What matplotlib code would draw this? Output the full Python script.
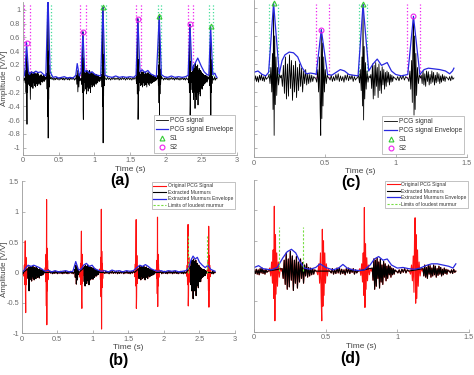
import numpy as np
import matplotlib
matplotlib.use('Agg')
import matplotlib.pyplot as plt

plt.rcParams['font.family'] = ['Liberation Sans', 'DejaVu Sans']

# ---------------- data: recording 1 (panels a, b) ----------------
a_sound_offsets = [-0.025, -0.018, -0.012, -0.007, -0.003, 0.0, 0.003, 0.006, 0.01, 0.014, 0.019, 0.025, 0.032]
a_sound_times = [0.05, 0.35, 0.84, 1.12, 1.61, 1.91, 2.34, 2.63]
a_sound_vals = [
    [0.0, -0.06, 0.12, -0.2, 0.3, 0.52, -0.33, -0.66, 0.25, -0.2, 0.1, -0.08, 0.0],
    [0.0, 0.08, -0.15, 0.3, -0.55, 1.2, -0.86, 0.4, -0.3, 0.2, -0.12, 0.05, 0.0],
    [0.0, -0.08, 0.15, -0.2, 0.35, 0.68, -0.45, -0.59, 0.3, -0.18, 0.1, -0.05, 0.0],
    [0.0, 0.06, -0.12, 0.25, -0.4, 1.04, -0.93, 0.35, -0.25, 0.15, -0.1, 0.04, 0.0],
    [0.0, -0.07, 0.14, -0.22, 0.4, 0.87, -0.59, -0.4, 0.28, -0.18, 0.1, -0.05, 0.0],
    [0.0, 0.05, -0.1, 0.2, -0.35, 0.91, -0.56, 0.3, -0.22, 0.14, -0.08, 0.04, 0.0],
    [0.0, -0.06, 0.12, -0.2, 0.35, 0.79, -0.55, -0.38, 0.25, -0.16, 0.09, -0.05, 0.0],
    [0.0, 0.05, -0.1, 0.2, -0.3, 0.76, -0.57, 0.28, -0.2, 0.12, -0.07, 0.03, 0.0],
]
a_murmur_spans = [(0.085, 0.32), (0.875, 1.09), (1.645, 1.88), (2.375, 2.6)]
a_murmur_vals = [
    [0.06, -0.1, 0.09, -0.3, 0.08, -0.12, 0.1, -0.08, 0.07, -0.14, 0.09, -0.06, 0.1, -0.1, 0.06, -0.12, 0.08, -0.07, 0.06, -0.1,
     0.09, -0.05, 0.07, -0.08, 0.04, -0.06, 0.05, -0.09, 0.06, -0.04, 0.03, -0.05, 0.04, -0.03, 0.05, -0.04, 0.03, -0.02, 0.02, 0.0],
    [0.08, -0.15, 0.1, -0.22, 0.12, -0.12, 0.09, -0.18, 0.1, -0.1, 0.12, -0.14, 0.08, -0.2, 0.1, -0.08, 0.09, -0.12, 0.07, -0.1,
     0.08, -0.09, 0.06, -0.11, 0.07, -0.06, 0.05, -0.08, 0.06, -0.05, 0.04, -0.06, 0.05, -0.03, 0.03, -0.04, 0.02, -0.03, 0.02, 0.0],
    [0.06, -0.1, 0.1, -0.08, 0.08, -0.12, 0.1, -0.06, 0.09, -0.1, 0.06, -0.08, 0.1, -0.09, 0.07, -0.12, 0.08, -0.06, 0.09, -0.08,
     0.06, -0.1, 0.07, -0.05, 0.06, -0.07, 0.05, -0.06, 0.04, -0.05, 0.05, -0.04, 0.03, -0.04, 0.03, -0.03, 0.02, -0.02, 0.01, 0.0],
    [0.1, -0.2, 0.18, -0.3, 0.2, -0.19, 0.15, -0.43, 0.22, -0.25, 0.18, -0.3, 0.15, -0.2, 0.2, -0.38, 0.12, -0.22, 0.15, -0.18,
     0.1, -0.25, 0.12, -0.15, 0.1, -0.12, 0.08, -0.15, 0.07, -0.1, 0.06, -0.08, 0.05, -0.07, 0.04, -0.06, 0.05, -0.04, 0.03, -0.05,
     0.03, -0.02, 0.02, 0.0],
]
a_quiet_spans = [(0.0, 0.022), (0.385, 0.735), (0.74, 0.805), (1.155, 1.585), (1.945, 2.315), (2.665, 2.72)]
a_quiet_vals = [
    [0.0, -0.03, 0.02, -0.02, 0.0],
    [0.0, 0.02, -0.01, 0.015, -0.02, 0.01, -0.015, 0.02, -0.01, 0.01, -0.02, 0.015, -0.01, 0.02, -0.015,
     0.01, -0.02, 0.01, -0.01, 0.02, -0.015, 0.01, -0.02, 0.015, -0.01, 0.02, -0.01, 0.015, -0.02, 0.0],
    [0.0, 0.05, -0.08, 0.12, -0.19, 0.08, -0.12, 0.05, -0.03, 0.0],
    [0.0, -0.015, 0.02, -0.01, 0.01, -0.02, 0.015, -0.01, 0.02, -0.015, 0.01, -0.01, 0.02, -0.02, 0.01,
     -0.015, 0.02, -0.01, 0.015, -0.02, 0.01, -0.01, 0.02, -0.015, 0.01, -0.02, 0.015, -0.01, 0.02, 0.0],
    [0.0, 0.015, -0.02, 0.01, -0.01, 0.02, -0.015, 0.01, -0.02, 0.015, -0.01, 0.02, -0.01, 0.01, -0.02,
     0.015, -0.01, 0.02, -0.015, 0.01, -0.02, 0.01, -0.01, 0.02, -0.015, 0.01, -0.02, 0.015, -0.01, 0.0],
    [0.0, -0.02, 0.03, -0.02, 0.01, 0.0],
]
a_env_t = [0.0, 0.02, 0.03, 0.05, 0.075, 0.09, 0.12, 0.15, 0.18, 0.21, 0.25, 0.29, 0.32, 0.35, 0.38, 0.42, 0.46, 0.5,
           0.54, 0.58, 0.62, 0.66, 0.7, 0.74, 0.76, 0.79, 0.815, 0.84, 0.865, 0.89, 0.93, 0.97, 1.01, 1.05, 1.09, 1.12,
           1.15, 1.2, 1.25, 1.3, 1.35, 1.4, 1.45, 1.5, 1.55, 1.585, 1.61, 1.64, 1.67, 1.71, 1.75, 1.79, 1.83, 1.87, 1.91,
           1.94, 1.98, 2.03, 2.08, 2.13, 2.18, 2.23, 2.28, 2.315, 2.34, 2.37, 2.4, 2.45, 2.5, 2.54, 2.58, 2.605, 2.63,
           2.66, 2.69, 2.71, 2.72]
a_env_v = [0.02, 0.05, 0.15, 0.52, 0.12, 0.06, 0.1, 0.08, 0.11, 0.09, 0.1, 0.06, 0.04, 1.2, 0.1, 0.02, 0.03, 0.01,
           0.02, 0.03, 0.01, 0.02, 0.01, 0.05, 0.22, 0.04, 0.1, 0.68, 0.1, 0.12, 0.08, 0.1, 0.06, 0.05, 0.04, 1.04,
           0.05, 0.03, 0.02, 0.04, 0.02, 0.03, 0.02, 0.03, 0.02, 0.05, 0.87, 0.1, 0.13, 0.09, 0.12, 0.07, 0.05, 0.03, 0.91,
           0.06, 0.03, 0.02, 0.04, 0.02, 0.03, 0.02, 0.03, 0.05, 0.79, 0.12, 0.2, 0.3, 0.18, 0.1, 0.06, 0.05, 0.76,
           0.06, 0.08, 0.03, 0.02]
a_s1_times = [0.35, 1.12, 1.91, 2.63]
a_s1_peaks = [1.2, 1.04, 0.91, 0.76]
a_s2_times = [0.05, 0.84, 1.61, 2.34]
a_s2_peaks = [0.52, 0.68, 0.87, 0.79]
a_s1_bounds = [0.33, 0.39, 1.10, 1.16, 1.89, 1.94, 2.61, 2.66]
a_s2_bounds = [0.02, 0.10, 0.80, 0.88, 1.58, 1.65, 2.31, 2.38]

b_env_t = [0.0, 0.03, 0.06, 0.09, 0.13, 0.17, 0.21, 0.25, 0.29, 0.33, 0.37, 0.42, 0.47, 0.52, 0.57, 0.62, 0.67, 0.72,
           0.76, 0.8, 0.84, 0.87, 0.91, 0.95, 0.99, 1.03, 1.07, 1.12, 1.17, 1.22, 1.27, 1.32, 1.37, 1.42, 1.47, 1.52,
           1.57, 1.62, 1.66, 1.7, 1.74, 1.78, 1.82, 1.86, 1.91, 1.96, 2.01, 2.06, 2.11, 2.16, 2.21, 2.26, 2.31, 2.35,
           2.38, 2.41, 2.44, 2.47, 2.5, 2.54, 2.58, 2.62, 2.66, 2.7, 2.72]
b_env_v = [0.01, 0.03, 0.08, 0.12, 0.1, 0.12, 0.1, 0.08, 0.05, 0.02, 0.04, 0.01, 0.03, 0.01, 0.02, 0.03, 0.01, 0.02,
           0.18, 0.04, 0.06, 0.12, 0.15, 0.1, 0.12, 0.06, 0.04, 0.02, 0.03, 0.01, 0.04, 0.02, 0.03, 0.01, 0.03, 0.02,
           0.03, 0.08, 0.12, 0.1, 0.13, 0.1, 0.06, 0.04, 0.02, 0.03, 0.01, 0.03, 0.02, 0.03, 0.01, 0.02, 0.03, 0.08,
           0.2, 0.27, 0.22, 0.25, 0.17, 0.12, 0.08, 0.12, 0.05, 0.03, 0.02]
b_limits = [2.34, 2.60]
b_limit_top = 0.6

# ---------------- data: recording 2 (panels c, d) ----------------
c_sound_offsets = [-0.04, -0.032, -0.025, -0.019, -0.013, -0.008, -0.004, 0.0, 0.004, 0.008, 0.012, 0.017, 0.022,
                   0.028, 0.035, 0.042, 0.05]
c_sound_times = [0.14, 0.476, 0.77, 1.125]
c_sound_vals = [
    [0.0, 0.05, -0.08, 0.15, -0.2, 0.35, -0.45, 1.07, -0.82, 0.6, -0.38, 0.3, -0.25, 0.15, -0.1, 0.05, 0.0],
    [0.0, -0.06, 0.12, -0.2, 0.3, -0.45, -0.82, 0.69, -0.58, 0.5, -0.4, 0.3, -0.2, 0.12, -0.08, 0.04, 0.0],
    [0.0, 0.04, -0.07, 0.12, -0.18, 0.3, -0.4, 1.05, -0.6, 0.45, -0.3, 0.22, -0.16, 0.1, -0.06, 0.03, 0.0],
    [0.0, -0.05, 0.1, -0.16, 0.25, -0.35, 0.5, 0.88, -0.53, 0.6, -0.45, 0.35, -0.25, 0.15, -0.08, 0.04, 0.0],
]
c_murmur_spans = [(0.195, 0.43), (0.825, 0.99), (1.18, 1.36)]
c_murmur_vals = [
    [0.04, -0.12, 0.18, -0.22, 0.3, -0.3, 0.2, -0.26, 0.33, -0.15, 0.25, -0.32, 0.18, -0.2, 0.24, -0.28, 0.15,
     -0.18, 0.2, -0.12, 0.14, -0.2, 0.1, -0.08, 0.12, -0.1, 0.06, -0.08, 0.05, -0.06, 0.04, -0.05, 0.02, 0.0],
    [0.05, -0.15, 0.2, -0.3, 0.18, -0.25, 0.22, -0.12, 0.15, -0.28, 0.2, -0.18, 0.1, -0.22, 0.16, -0.1, 0.12, -0.16,
     0.08, -0.12, 0.1, -0.06, 0.08, -0.1, 0.05, -0.06, 0.04, -0.05, 0.02, 0.0],
    [0.04, -0.08, 0.1, -0.1, 0.06, -0.12, 0.1, -0.05, 0.09, -0.1, 0.05, -0.08, 0.1, -0.06, 0.08, -0.1, 0.04, -0.07,
     0.08, -0.05, 0.06, -0.08, 0.03, -0.06, 0.05, -0.04, 0.03, -0.05, 0.02, 0.0],
]
c_quiet_spans = [(0.0, 0.095), (0.53, 0.725), (0.995, 1.08), (1.365, 1.41)]
c_quiet_vals = [
    [0.0, -0.04, 0.03, -0.05, 0.02, -0.06, 0.04, -0.03, 0.05, -0.04, 0.02, -0.05, 0.03, -0.02, 0.0],
    [0.0, -0.03, 0.04, -0.05, 0.02, -0.04, 0.05, -0.03, 0.06, -0.05, 0.03, -0.04, 0.02, -0.06, 0.04, -0.03, 0.05, -0.04,
     0.03, -0.02, 0.04, -0.05, 0.02, -0.03, 0.0],
    [0.0, -0.03, 0.02, -0.04, 0.03, -0.02, 0.04, -0.03, 0.02, 0.0],
    [0.0, -0.03, 0.02, -0.04, 0.03, -0.02, 0.0],
]
c_env_t = [0.0, 0.03, 0.06, 0.085, 0.105, 0.14, 0.18, 0.2, 0.22, 0.25, 0.28, 0.31, 0.34, 0.37, 0.4, 0.43, 0.44, 0.476,
           0.52, 0.55, 0.58, 0.61, 0.64, 0.67, 0.7, 0.735, 0.77, 0.81, 0.84, 0.87, 0.9, 0.94, 0.97, 1.0, 1.04, 1.085,
           1.125, 1.17, 1.2, 1.23, 1.27, 1.31, 1.35, 1.38, 1.4, 1.41]
c_env_v = [0.08, 0.1, 0.05, 0.03, 0.08, 1.07, 0.06, 0.25, 0.33, 0.37, 0.36, 0.3, 0.15, 0.06, 0.07, 0.06, 0.05, 0.69,
           0.05, 0.04, 0.08, 0.12, 0.1, 0.05, 0.04, 0.03, 1.05, 0.1, 0.2, 0.27, 0.18, 0.22, 0.1, 0.05, 0.03, 0.05,
           0.88, 0.05, 0.12, 0.14, 0.13, 0.12, 0.1, 0.06, 0.1, 0.14]
c_s1_times = [0.14, 0.77]
c_s1_peaks = [1.07, 1.05]
c_s2_times = [0.476, 1.125]
c_s2_peaks = [0.69, 0.88]
c_s1_bounds = [0.11, 0.17, 0.74, 0.80]
c_s2_bounds = [0.44, 0.53, 1.08, 1.17]

d_env_t = [0.0, 0.03, 0.06, 0.09, 0.12, 0.16, 0.2, 0.23, 0.26, 0.29, 0.32, 0.35, 0.39, 0.43, 0.46, 0.5, 0.55, 0.59,
           0.62, 0.65, 0.69, 0.73, 0.77, 0.81, 0.84, 0.87, 0.9, 0.93, 0.96, 1.0, 1.04, 1.08, 1.12, 1.16, 1.2, 1.24,
           1.28, 1.32, 1.36, 1.39, 1.41]
d_env_v = [0.06, 0.09, 0.04, 0.03, 0.02, 0.06, 0.22, 0.32, 0.36, 0.3, 0.15, 0.05, 0.03, 0.06, 0.12, 0.06, 0.02, 0.05,
           0.11, 0.05, 0.02, 0.01, 0.02, 0.1, 0.2, 0.24, 0.18, 0.2, 0.1, 0.05, 0.06, 0.04, 0.03, 0.05, 0.09, 0.12,
           0.12, 0.1, 0.08, 0.05, 0.12]
d_limits = [0.17, 0.34]
d_limit_top = 0.72


def assemble(sound_times, sound_offsets, sound_vals, spans_list, vals_list):
    ts, vs = [], []
    if sound_times is not None:
        for tc, vals in zip(sound_times, sound_vals):
            ts.append(tc + np.asarray(sound_offsets))
            vs.append(np.asarray(vals))
    for spans, vals_group in zip(spans_list, vals_list):
        for (t0, t1), vals in zip(spans, vals_group):
            ts.append(np.linspace(t0, t1, len(vals)))
            vs.append(np.asarray(vals))
    t = np.concatenate(ts)
    v = np.concatenate(vs)
    o = np.argsort(t, kind='stable')
    return t[o], v[o]


a_t, a_v = assemble(a_sound_times, a_sound_offsets, a_sound_vals,
                    [a_murmur_spans, a_quiet_spans], [a_murmur_vals, a_quiet_vals])
b_t, b_v = assemble(None, None, None, [a_murmur_spans, a_quiet_spans], [a_murmur_vals, a_quiet_vals])
c_t, c_v = assemble(c_sound_times, c_sound_offsets, c_sound_vals,
                    [c_murmur_spans, c_quiet_spans], [c_murmur_vals, c_quiet_vals])
d_t, d_v = assemble(None, None, None, [c_murmur_spans, c_quiet_spans], [c_murmur_vals, c_quiet_vals])

# ---------------- styling ----------------
W, H = 474, 375
SPINE = '#9a9a9a'
TXT = '#6a6a6a'
BLUE = '#2828e0'
S1C = '#33cc33'
S2C = '#ee22ee'
S1LINE = '#44dd99'
LIMC = '#77dd44'

fig = plt.figure(figsize=(W / 100, H / 100), dpi=100)


def px_axes(x0, x1, ytop, ybot):
    return fig.add_axes([x0 / W, 1 - ybot / H, (x1 - x0) / W, (ybot - ytop) / H])


def style(ax, xlim, ylim, xticks, yticks, ylabels=True):
    ax.set_xlim(*xlim)
    ax.set_ylim(*ylim)
    for s in ['top', 'right']:
        ax.spines[s].set_visible(False)
    for s in ['left', 'bottom']:
        ax.spines[s].set_color(SPINE)
        ax.spines[s].set_linewidth(0.6)
    ax.set_xticks(xticks)
    ax.set_xticklabels([('%g' % x) for x in xticks])
    ax.set_yticks(yticks)
    if ylabels:
        ax.set_yticklabels([('%g' % y) for y in yticks])
    else:
        ax.set_yticklabels([])
    ax.tick_params(direction='in', length=2, width=0.5, colors=SPINE, labelcolor=TXT, labelsize=5.3, pad=2)
    ax.set_xlabel('Time (s)', fontsize=6, color='#444444', labelpad=1)


def small_legend(ax, handles, labels, loc, fs, hl, ls, bap):
    leg = ax.legend(handles, labels, loc=loc, fontsize=fs, handlelength=hl, labelspacing=ls, borderpad=0.3,
                    handletextpad=0.3, borderaxespad=bap, fancybox=False, framealpha=1)
    leg.get_frame().set_edgecolor('#aaaaaa')
    leg.get_frame().set_linewidth(0.5)
    for t in leg.get_texts():
        t.set_color('#333333')


# ---- panel (a)
axa = px_axes(23, 237, 2.4, 154.6)
style(axa, (0, 3), (-1.1, 1.107), [0, 0.5, 1, 1.5, 2, 2.5, 3], [-1, -0.8, -0.6, -0.4, -0.2, 0, 0.2, 0.4, 0.6, 0.8, 1])
axa.set_ylabel('Amplitude [V/V]', fontsize=5.8, color='#444444')
axa.yaxis.set_label_coords(-0.068, 0.5)
for x in a_s2_bounds:
    axa.plot([x, x], [0, 1.1], ls=':', color=S2C, lw=0.9)
for x in a_s1_bounds:
    axa.plot([x, x], [0, 1.1], ls=':', color=S1LINE, lw=0.9)
la, = axa.plot(a_t, a_v, color='black', lw=0.6)
lb, = axa.plot(a_env_t, a_env_v, color=BLUE, lw=0.9)
ms1, = axa.plot(a_s1_times, a_s1_peaks, ls='none', marker='^', ms=3.5, mfc='none', mec=S1C, mew=0.8)
ms2, = axa.plot(a_s2_times, a_s2_peaks, ls='none', marker='o', ms=3.5, mfc='none', mec=S2C, mew=0.8)
small_legend(axa, [la, lb, ms1, ms2], ['PCG signal', 'PCG signal Envelope', 'S1', 'S2'],
             'lower right', 4.8, 1.9, 0.3, 0.25)

# ---- panel (c)
axc = px_axes(253.7, 466.7, 0, 157)
style(axc, (0, 1.5), (-1.129, 1.114), [0, 0.5, 1, 1.5], [-1, -0.8, -0.6, -0.4, -0.2, 0, 0.2, 0.4, 0.6, 0.8, 1],
      ylabels=False)
for x in c_s2_bounds:
    axc.plot([x, x], [0, 1.05], ls=':', color=S2C, lw=0.9)
for x in c_s1_bounds:
    axc.plot([x, x], [0, 1.05], ls=':', color=S1LINE, lw=0.9)
lc, = axc.plot(c_t, c_v, color='black', lw=0.6)
lce, = axc.plot(c_env_t, c_env_v, color=BLUE, lw=0.9)
mc1, = axc.plot(c_s1_times, c_s1_peaks, ls='none', marker='^', ms=3.5, mfc='none', mec=S1C, mew=0.8)
mc2, = axc.plot(c_s2_times, c_s2_peaks, ls='none', marker='o', ms=3.5, mfc='none', mec=S2C, mew=0.8)
small_legend(axc, [lc, lce, mc1, mc2], ['PCG signal', 'PCG signal Envelope', 'S1', 'S2'],
             'lower right', 4.8, 1.9, 0.3, 0.4)

# ---- panel (b)
axb = px_axes(21.7, 235, 181.3, 333.3)
style(axb, (0, 3), (-1, 1.5), [0, 0.5, 1, 1.5, 2, 2.5, 3], [-1, -0.5, 0, 0.5, 1, 1.5])
axb.set_ylabel('Amplitude [V/V]', fontsize=5.8, color='#444444')
axb.yaxis.set_label_coords(-0.062, 0.42)
r1, = axb.plot(a_t, a_v, color='#ff1010', lw=0.8)
k1, = axb.plot(b_t, b_v, color='black', lw=0.8)
e1, = axb.plot(b_env_t, b_env_v, color=BLUE, lw=0.9)
g1 = None
for x in b_limits:
    g1, = axb.plot([x, x], [0, b_limit_top], color=LIMC, lw=0.8, dashes=(2, 1.5))
small_legend(axb, [r1, k1, e1, g1], ['Original PCG Signal', 'Extracted Murmurs', 'Extracted Murmurs Envelope',
                                     'Limits of loudest murmur'], 'upper right', 3.6, 2.6, 0.3, 0.1)

# ---- panel (d)
axd = px_axes(254.3, 468.7, 180.2, 331.7)
style(axd, (0, 1.5), (-1, 1.5), [0, 0.5, 1, 1.5], [-1, -0.5, 0, 0.5, 1, 1.5], ylabels=False)
r2, = axd.plot(c_t, c_v, color='#ff1010', lw=0.8)
k2, = axd.plot(d_t, d_v, color='black', lw=0.8)
e2, = axd.plot(d_env_t, d_env_v, color=BLUE, lw=0.9)
g2 = None
for x in d_limits:
    g2, = axd.plot([x, x], [0, d_limit_top], color=LIMC, lw=0.8, dashes=(2, 1.5))
small_legend(axd, [r2, k2, e2, g2], ['Original PCG Signal', 'Extracted Murmurs', 'Extracted Murmurs Envelope',
                                     'Limits of loudest murmur'], 'upper right', 3.6, 2.6, 0.3, 0.1)

# panel letters
for lab, x, y in [('(a)', 120, 181), ('(c)', 351, 182), ('(b)', 118, 360), ('(d)', 350, 359)]:
    fig.text(x / W, 1 - y / H, lab, fontsize=11.5, fontweight='bold', ha='center', va='center', color='black')

fig.savefig('out.png', dpi=100)
